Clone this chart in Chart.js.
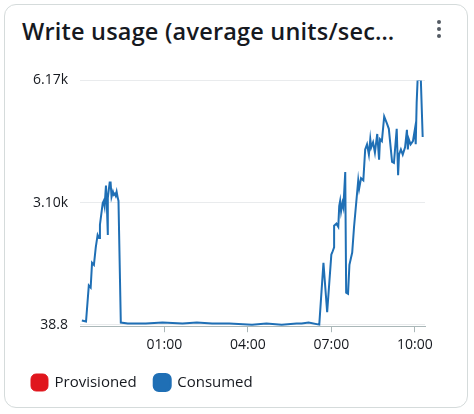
<!DOCTYPE html>
<html><head><meta charset="utf-8">
<script src="https://cdn.jsdelivr.net/npm/chart.js@4"></script>
<style>
body{margin:0;background:#fff;font-family:"Open Sans",Roboto,sans-serif;}
#card{position:absolute;left:4px;top:4px;width:464px;height:404px;border:1px solid #d5dbdb;border-radius:12px;box-sizing:border-box;}
#title{position:absolute;left:22px;top:15px;font-size:23.5px;color:#16191f;font-weight:600;letter-spacing:0.2px;}
#menu{position:absolute;left:437px;top:20px;width:4px;}
#menu div{width:4px;height:4px;border-radius:2px;background:#545b64;margin-bottom:3px;}
#wrap{position:absolute;left:14px;top:60px;width:430px;height:340px;}
</style></head><body>
<div id="card"></div>
<div id="title">Write usage (average units/sec…</div>
<div id="menu"><div></div><div></div><div></div></div>
<div id="wrap"><canvas id="c"></canvas></div>
<script>
const minutes = [-118,-109,-103,-99,-96,-92,-88,-84,-81,-79,-73,-71,-69,-66,-64,-62,-62,-58,-56,-54,-51,-49,-47,-45,-43,-41,-39,-34,-19,20,56,99,130,163,200,249,280,313,345,356,371,394,403,411,420,422,426,426,431,435,437,439,441,444,446,450,452,456,459,465,469,478,480,484,489,493,497,501,504,506,510,514,519,523,525,529,534,540,544,551,555,561,564,566,570,574,579,583,585,587,591,596,600,602,604,606,613,617];
const consumed = [142,116,1022,970,1591,1539,1979,2290,2212,2548,3092,3143,3014,3531,3014,2290,3221,3609,3609,3247,3376,3299,3324,3273,3376,3247,3143,90,65,65,90,65,90,65,65,39,65,39,65,65,90,39,1591,349,1798,1850,1979,2522,2574,2496,3014,3143,2884,3092,2988,3868,841,815,1539,1850,2496,3661,3454,3713,3661,4437,4566,4307,4695,4489,4618,4359,4825,4178,4695,4644,5264,5083,4954,4126,4100,4954,3790,4307,4437,4307,4489,4928,4437,4695,4566,4644,4928,4566,5600,6170,6196,4747];
const provisioned = [];
const xTicks = [60,240,420,600];
const xTickLabels = ['01:00','04:00','07:00','10:00'];
const yTicks = [38.8,3100,6170];
const yTickLabels = ['38.8','3.10k','6.17k'];
const pts = minutes.map((m,i)=>({x:m,y:consumed[i]}));
new Chart(document.getElementById('c'),{
 type:'line',
 data:{datasets:[
  {label:'Provisioned',data:provisioned,borderColor:'#e0161d',backgroundColor:'#e0161d'},
  {label:'Consumed',data:pts,borderColor:'#1f6fb5',backgroundColor:'#1f6fb5',borderWidth:2,pointRadius:0,tension:0}
 ]},
 options:{responsive:true,maintainAspectRatio:false,animation:false,
  layout:{padding:{right:19,top:15}},
  plugins:{tooltip:{enabled:false},legend:{position:'bottom',align:'start',
   labels:{usePointStyle:true,pointStyle:'rectRounded',boxWidth:16,boxHeight:14,padding:18,color:'#16191f',font:{family:'Open Sans',size:15}}}},
  scales:{
   x:{type:'linear',min:-122,max:622,
    afterBuildTicks:a=>{a.ticks=xTicks.map(v=>({value:v}));},
    ticks:{callback:(v)=>xTickLabels[xTicks.indexOf(v)],color:'#16191f',font:{family:'Open Sans',size:14},maxRotation:0,padding:4},
    grid:{display:true,drawOnChartArea:false,tickLength:6,color:'#aab7b8'},border:{color:'#aab7b8'}},
   y:{min:0,max:6170,
    afterFit:a=>{a.width=66;},
    afterBuildTicks:a=>{a.ticks=yTicks.map(v=>({value:v}));},
    ticks:{callback:(v)=>yTickLabels[yTicks.indexOf(v)],color:'#16191f',font:{family:'Open Sans',size:14},padding:12},
    grid:{color:'#e9ebed',tickLength:0},border:{display:false}}
  }}
});
</script></body></html>
